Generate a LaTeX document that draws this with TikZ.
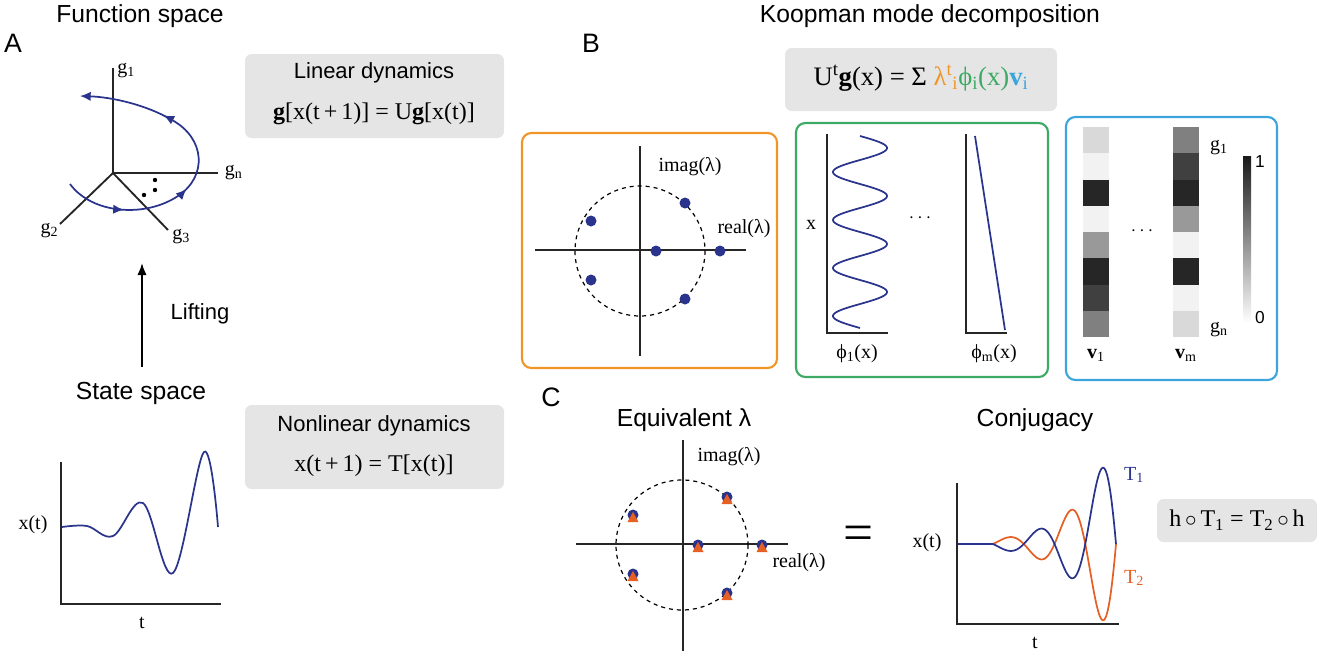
\documentclass[tikz,border=0pt]{standalone}
\usepackage{fontspec}
\setmainfont{Liberation Serif}
\newfontfamily\sansf{Liberation Sans}
\usetikzlibrary{positioning}
\usetikzlibrary{arrows.meta}
\usetikzlibrary{decorations.markings}
\definecolor{curveblue}{RGB}{43,52,140}
\definecolor{evorange}{RGB}{240,150,40}
\definecolor{efgreen}{RGB}{60,170,100}
\definecolor{modeblue}{RGB}{60,165,220}
\definecolor{conjorange}{RGB}{230,95,35}
\definecolor{boxgray}{RGB}{229,229,229}
\tikzset{
  title/.style={font=\sansf\fontsize{18.5}{20}\selectfont},
  panel/.style={font=\sansf\fontsize{20}{22}\selectfont},
  head/.style={font=\sansf\fontsize{16.5}{18}\selectfont},
  eqn/.style={font=\fontsize{18}{20}\selectfont},
  lbl/.style={font=\fontsize{15}{17}\selectfont, inner sep=1pt},
  graybox/.style={fill=boxgray, rounded corners=5pt},
  axis/.style={line width=1.4pt, black!85},
  curve/.style={line width=1.3pt, curveblue},
  frame/.style={line width=1.6pt, rounded corners=7pt},
  dot/.style={fill=curveblue},
}
\begin{document}
\begin{tikzpicture}[x=0.75pt,y=-0.75pt]
\useasboundingbox (0,0) rectangle (1318,665);

% A: function space
\node[title] (fstitle) at (140,16) {Function space};
\node[panel] (pA) at (13,43) {A};
\coordinate (o) at (113,173);
\coordinate (g1e) at (113,68);
\coordinate (gne) at (218,173);
\coordinate (g2e) at (60,224);
\coordinate (g3e) at (168,230);
\draw[axis] (g1e) -- (o) -- (gne);
\draw[axis] (g2e) -- (o) -- (g3e);
\node[lbl, right=2pt of g1e, yshift=-2pt] (g1) {g\textsubscript{1}};
\node[lbl, right=4pt of gne] (gn) {g\textsubscript{n}};
\node[lbl, below left=-2pt and 0pt of g2e] (g2) {g\textsubscript{2}};
\node[lbl, below right=-2pt and 2pt of g3e] (g3) {g\textsubscript{3}};
\draw[curve, -{Latex[length=8pt,width=7pt]},
  postaction={decorate, decoration={markings,
    mark=at position 0.2 with {\arrow{Latex[length=8pt,width=7pt]}},
    mark=at position 0.42 with {\arrow{Latex[length=8pt,width=7pt]}},
    mark=at position 0.72 with {\arrow{Latex[length=8pt,width=7pt]}}}}]
  (70,184) .. controls (92,214) and (145,218) .. (178,196)
  .. controls (208,176) and (205,138) .. (172,120)
  .. controls (145,104) and (110,97) .. (80,96);
\foreach \p in {(155,180),(155,190),(144,195)} \fill \p circle (2.2);

\node[graybox, minimum width=259*0.75pt, minimum height=84*0.75pt] (linbox) at (374.5,96) {};
\node[head] (lintext) at (374,73) {Linear dynamics};
\node[eqn] (lineq) at (374,114) {\textbf{g}[x(t\,+\,1)] = U\textbf{g}[x(t)]};

% lifting
\coordinate (liftlow) at (142,367);
\coordinate (lifthigh) at (142,263);
\draw[line width=1.4pt, -{Latex[length=9pt,width=7pt]}] (liftlow) -- (lifthigh);
\node[head] (lift) at (200,314) {Lifting};

% state space
\node[title] (sstitle) at (141,393) {State space};
\node[graybox, minimum width=259*0.75pt, minimum height=84*0.75pt] (nlbox) at (374.5,447) {};
\node[head] (nltext) at (374,426) {Nonlinear dynamics};
\node[eqn] (nleq) at (374,466) {x(t\,+\,1) = T[x(t)]};
\draw[axis] (61,462) -- (61,604) -- (221,604);
\node[lbl] (xt1) at (33,525) {x(t)};
\node[lbl] (t1) at (142,623) {t};
\draw[curve] plot[smooth, tension=0.6] coordinates {(62,527) (87,526) (113,536) (143,503) (173,573) (204,452) (218,527)};

% B: Koopman mode decomposition
\node[title] (kmtitle) at (930,16) {Koopman mode decomposition};
\node[panel] (pB) at (591,43) {B};
\node[graybox, minimum width=272*0.75pt, minimum height=63*0.75pt] (kmbox) at (921,79.5) {};
\node[eqn, font=\fontsize{20}{22}\selectfont] (kmeq) at (921,78) {U\textsuperscript{t}\textbf{g}(x) = Σ \textcolor{evorange}{λ\textsuperscript{t}\textsubscript{i}}\textcolor{efgreen}{ϕ\textsubscript{i}(x)}\textcolor{modeblue}{\textbf{v}\textsubscript{i}}};

% eigenvalues
\draw[frame, evorange] (522,133) rectangle (777,368);
\draw[axis] (535,250) -- (746,250);
\draw[axis] (640,146) -- (640,356);
\draw[dashed, line width=0.9pt] (640,251) circle (65);
\foreach \p in {(685,203),(591,221),(656,251),(720,251),(591,280),(685,299)}
  \fill[dot] \p circle (5.5);
\node[lbl] (imB) at (690,167) {imag(λ)};
\node[lbl] (reB) at (744,229) {real(λ)};

% eigenfunctions
\draw[frame, efgreen] (796,123) rectangle (1048,377);
\draw[axis] (827,134) -- (827,333) -- (888,333);
\draw[curve, domain=136:328, samples=200, smooth] plot ({860+27*sin(7.5*(\x-136))}, \x);
\node[lbl] (xB) at (811,225) {x};
\node[lbl] (dotsB1) at (920,218) {$\cdots$};
\draw[axis] (966,134) -- (966,333) -- (1007,333);
\draw[curve] (975,136) -- (1005,330);
\node[lbl] (phi1) at (857,354) {ϕ\textsubscript{1}(x)};
\node[lbl] (phim) at (994,354) {ϕ\textsubscript{m}(x)};

% modes
\draw[frame, modeblue] (1066,117) rectangle (1277,380);
\foreach \c [count=\i] in {15,5,85,5,40,85,75,50} {
  \fill[black!\c] (1083,{127+(\i-1)*26.25}) rectangle (1109,{127+\i*26.25});
}
\foreach \c [count=\i] in {50,75,85,40,5,85,5,15} {
  \fill[black!\c] (1173,{127+(\i-1)*26.25}) rectangle (1199,{127+\i*26.25});
}
\node[lbl] (gB1) at (1219,148) {g\textsubscript{1}};
\node[lbl] (gBn) at (1219,330) {g\textsubscript{n}};
\shade[top color=black!90, bottom color=white] (1243,156) rectangle (1251,323);
\node[lbl, font=\sansf\fontsize{13}{15}\selectfont] (cb1) at (1260,162) {1};
\node[lbl, font=\sansf\fontsize{13}{15}\selectfont] (cb0) at (1260,318) {0};
\node[lbl] (dotsB2) at (1142,231) {$\cdots$};
\node[lbl] (v1) at (1096,355) {\textbf{v}\textsubscript{1}};
\node[lbl] (vm) at (1186,355) {\textbf{v}\textsubscript{m}};

% C: equivalent eigenvalues
\node[panel] (pC) at (551,397) {C};
\node[title] (eqtitle) at (684,420) {Equivalent λ};
\draw[axis] (576,544) -- (788,544);
\draw[axis] (683,440) -- (683,651);
\draw[dashed, line width=0.9pt] (682,545) ellipse (66 and 65);
\foreach \px/\py in {727/497,633/515,698/545,762/545,633/574,727/593} {
  \fill[dot] (\px,\py) circle (5.5);
  \fill[conjorange] (\px-5.5,\py+7) -- (\px+5.5,\py+7) -- (\px,\py-3) -- cycle;
}
\node[lbl] (imC) at (729,457) {imag(λ)};
\node[lbl] (reC) at (799,563) {real(λ)};
\node[font=\fontsize{40}{40}\selectfont] (equal) at (859,538) {=};

% conjugacy
\node[title] (cjtitle) at (1035,420) {Conjugacy};
\draw[axis] (957,483) -- (957,624) -- (1119,624);
\node[lbl] (xt2) at (927,543) {x(t)};
\node[lbl] (t2) at (1035,643) {t};
\draw[line width=1.3pt, conjorange] (958,544) -- (993,544);
\draw[line width=1.3pt, conjorange, domain=993:1116, samples=200, smooth]
  plot (\x, {544-7*exp(0.026*(\x-1010))*sin(5.8537*(\x-993))});
\draw[curve] (958,544) -- (993,544);
\draw[curve, domain=993:1116, samples=200, smooth]
  plot (\x, {544+7*exp(0.026*(\x-1010))*sin(5.8537*(\x-993))});
\node[lbl, text=curveblue] (T1) at (1134,475) {T\textsubscript{1}};
\node[lbl, text=conjorange] (T2) at (1134,578) {T\textsubscript{2}};
\node[graybox, minimum width=160*0.75pt, minimum height=43*0.75pt] (cjbox) at (1237,520.5) {};
\node[eqn] (cjeq) at (1237,520) {h$\,\circ\,$T\textsubscript{1} = T\textsubscript{2}$\,\circ\,$h};
\end{tikzpicture}
\end{document}
